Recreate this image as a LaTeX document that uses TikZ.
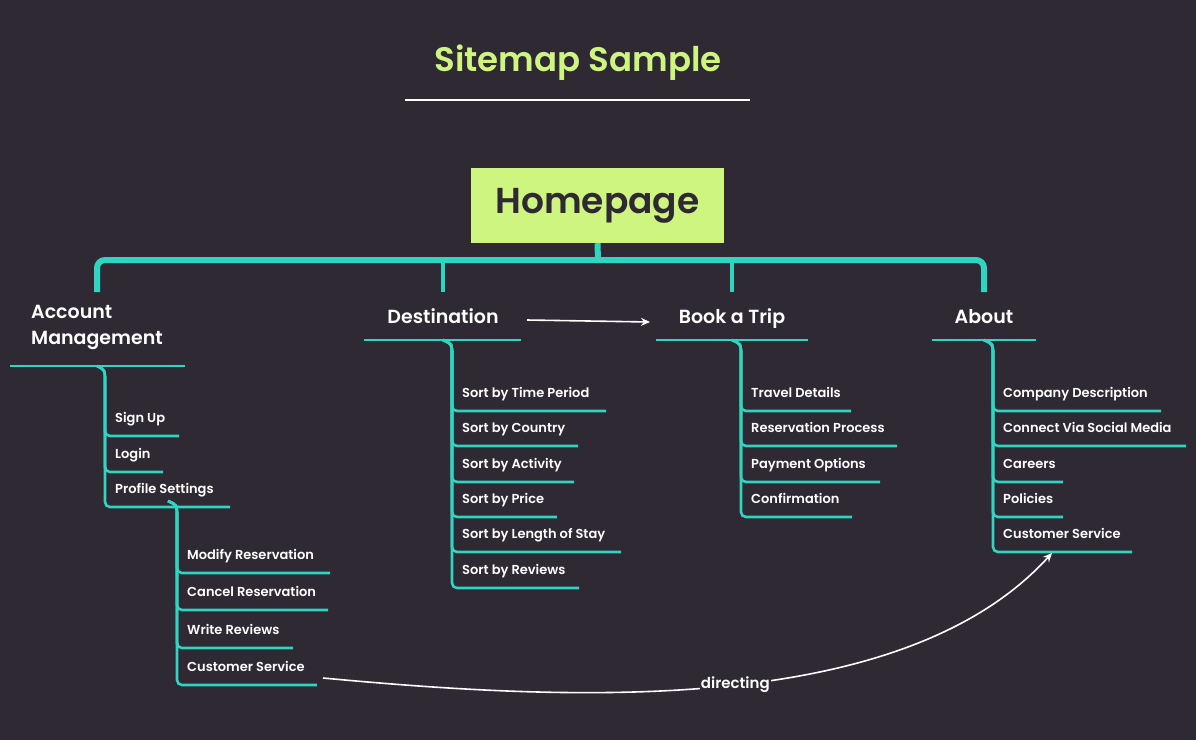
\documentclass[tikz,border=0pt]{standalone}
\usepackage{fontspec}
\setmainfont{Poppins}[BoldFont={* SemiBold}]
\usetikzlibrary{arrows.meta}
\definecolor{bg}{HTML}{2E2933}
\definecolor{tl}{HTML}{2FD5C0}
\definecolor{lg}{HTML}{CDF57F}
\tikzset{
 leaf/.style={anchor=base west,text=white,font=\bfseries\fontsize{13}{15}\selectfont,inner sep=0pt},
 branch/.style={text=white,font=\bfseries\fontsize{19}{26}\selectfont,inner sep=0pt,align=left},
 tline/.style={draw=tl,line width=2.6pt,rounded corners=5pt},
}
\begin{document}
\begin{tikzpicture}[x=1pt,y=-1pt]
\fill[bg] (0,0) rectangle (1196,740);
\useasboundingbox (0,0) rectangle (1196,740);
\node[text=lg,font=\bfseries\fontsize{34}{40}\selectfont] (title) at (578,63) {Sitemap Sample};
\draw[white,line width=1.5pt] (405,100) -- (750,100);
\node[fill=lg,minimum width=253pt,minimum height=75pt,text=bg,font=\bfseries\fontsize{36}{40}\selectfont] (home) at (597.5,205.5) {Homepage};
\draw[draw=tl,line width=6pt] (home.south) -- (598,260);
\draw[draw=tl,line width=6pt,rounded corners=8pt] (97,292) -- (97,260) -- (984,260) -- (984,292);
\draw[draw=tl,line width=4pt] (443,260) -- (443,292);
\draw[draw=tl,line width=4pt] (732,260) -- (732,292);
% branches
\node[branch,anchor=north west] (acc) at (31,305) {Account\\Management};
\node[branch,anchor=base] (dest) at (443,323) {Destination};
\node[branch,anchor=base] (book) at (732,323) {Book a Trip};
\node[branch,anchor=base] (about) at (984,323) {About};
\draw[tline] (10,366) -- (185,366);
\draw[tline] (364,340) -- (521,340);
\draw[tline] (656,340) -- (808,340);
\draw[tline] (932,340) -- (1036,340);
% leaves helper
\newcommand{\leafset}[4]{% x0,ytop,xs, list y/right/text/name
 \foreach \y/\r/\t/\n in {#4} {
   \node[leaf] (\n) at (#3+10,\y) {\t};
   \draw[tline] (#1,#2) .. controls (#3,#2+4) .. (#3,#2+20) -- (#3,\y+14) -- (\r,\y+14);
 }}
\leafset{97}{366}{105}{422/179/Sign Up/su, 458/163/Login/lo, 493/230/Profile Settings/ps}
\leafset{168}{501}{177}{559/330/Modify Reservation/mr, 596/328/Cancel Reservation/cr, 634/293/Write Reviews/wr, 671/317/Customer Service/cs}
\leafset{443}{340}{452}{397/606/Sort by Time Period/d1, 432/578/Sort by Country/d2, 468/574/Sort by Activity/d3, 503/557/Sort by Price/d4, 538/621/Sort by Length of Stay/d5, 574/579/Sort by Reviews/d6}
\leafset{732}{340}{741}{397/851/Travel Details/b1, 432/897/Reservation Process/b2, 468/880/Payment Options/b3, 503/852/Confirmation/b4}
\leafset{984}{340}{993}{397/1161/Company Description/a1, 432/1186/Connect Via Social Media/a2, 468/1063/Careers/a3, 503/1063/Policies/a4, 538/1132/Customer Service/a5}
\coordinate (ae) at (1052,553);
\coordinate (cse) at (323,678);
\draw[white,line width=1.6pt,-{Stealth[length=9pt,width=8pt]}] (527,320) -- (650,322);
\draw[white,line width=1.6pt,-{Stealth[length=9pt,width=8pt]}] (cse) .. controls (560,700) and (900,720) .. (ae)
  node[pos=0.52,fill=bg,inner sep=1pt,text=white,font=\bfseries\fontsize{15}{18}\selectfont] (dir) {directing};
\end{tikzpicture}
\end{document}
